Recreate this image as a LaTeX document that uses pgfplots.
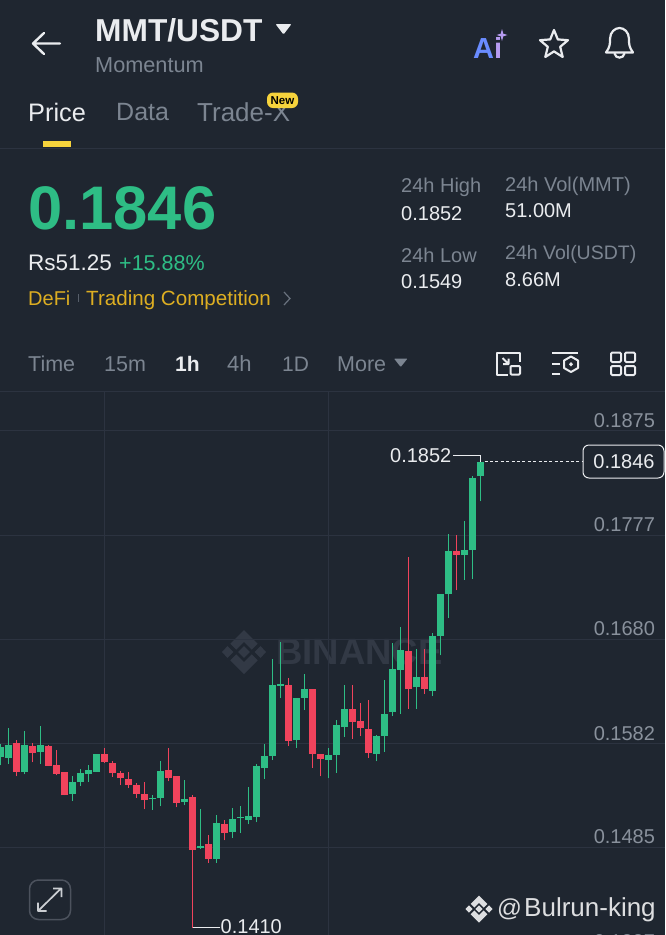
\documentclass[border=0pt]{standalone}
\usepackage{fontspec}
\setmainfont{Liberation Sans}
\usepackage{pgfplots}
\usepackage{pgfplotstable}
\pgfplotsset{compat=1.18}
\definecolor{bg}{HTML}{1F2630}
\definecolor{gridc}{HTML}{2C3340}
\definecolor{upc}{HTML}{2EBD85}
\definecolor{dnc}{HTML}{F0435C}
\definecolor{wht}{HTML}{EAECEF}
\definecolor{gry}{HTML}{7C8591}
\definecolor{gold}{HTML}{DDAE22}
\definecolor{yel}{HTML}{F6D33C}
\definecolor{wm}{HTML}{323945}
\definecolor{aip}{HTML}{B79CF0}
\definecolor{aib}{HTML}{6A8CFF}
% x low bottom top high
\pgfplotstableread{
x l b t h
0 0.15619 0.15694 0.15788 0.15822
1 0.15634 0.15687 0.15806 0.15972
3 0.15534 0.15556 0.15806 0.15937
5 0.15634 0.15744 0.15806 0.15987
9 0.15284 0.15353 0.15466 0.15516
10 0.15425 0.15459 0.15547 0.15587
11 0.15466 0.15534 0.15575 0.15619
12 0.15556 0.15556 0.15728 0.15728
19 0.15203 0.15300 0.15316 0.15337
20 0.15234 0.15316 0.15566 0.15656
23 0.15244 0.15275 0.15306 0.15478
25 0.14834 0.14844 0.14866 0.15206
27 0.14706 0.14744 0.15075 0.15156
29 0.14937 0.14994 0.15116 0.15216
30 0.14984 0.15122 0.15134 0.15237
31 0.15066 0.15110 0.15144 0.15416
32 0.15084 0.15134 0.15609 0.15628
33 0.15491 0.15591 0.15706 0.15816
34 0.15666 0.15706 0.16366 0.16609
35 0.16250 0.16359 0.16375 0.16769
37 0.15784 0.15853 0.16250 0.16253
38 0.16134 0.16250 0.16337 0.16469
41 0.15497 0.15666 0.15712 0.15778
42 0.15547 0.15719 0.15994 0.16041
43 0.15884 0.15975 0.16147 0.16366
47 0.15656 0.15728 0.15894 0.15900
48 0.15747 0.15897 0.16097 0.16416
49 0.16078 0.16116 0.16516 0.16766
50 0.16103 0.16509 0.16697 0.16916
52 0.16147 0.16347 0.16441 0.16703
54 0.16266 0.16316 0.16828 0.16859
55 0.16647 0.16831 0.17219 0.17222
56 0.16997 0.17219 0.17625 0.17787
58 0.17356 0.17591 0.17631 0.17906
59 0.17366 0.17631 0.18306 0.18322
60 0.18088 0.18322 0.18460 0.18520
}\upcandles
\pgfplotstableread{
x l b t h
2 0.15516 0.15556 0.15831 0.15853
4 0.15647 0.15734 0.15800 0.15831
6 0.15612 0.15616 0.15800 0.15806
7 0.15525 0.15541 0.15619 0.15759
8 0.15337 0.15337 0.15556 0.15556
13 0.15644 0.15650 0.15722 0.15778
14 0.15510 0.15544 0.15638 0.15656
15 0.15434 0.15497 0.15547 0.15563
16 0.15406 0.15434 0.15487 0.15553
17 0.15313 0.15353 0.15437 0.15453
18 0.15206 0.15291 0.15347 0.15466
21 0.15469 0.15503 0.15578 0.15778
22 0.15225 0.15266 0.15516 0.15516
24 0.14100 0.14828 0.15319 0.15344
26 0.14706 0.14744 0.14878 0.14966
28 0.14916 0.14984 0.15066 0.15103
36 0.15797 0.15847 0.16366 0.16437
39 0.15597 0.15728 0.16328 0.16328
40 0.15516 0.15675 0.15728 0.15728
44 0.15866 0.16025 0.16147 0.16366
45 0.15897 0.15969 0.16034 0.16206
46 0.15687 0.15738 0.15956 0.16228
51 0.16147 0.16328 0.16687 0.17569
53 0.16284 0.16328 0.16444 0.16706
57 0.17256 0.17588 0.17625 0.17778
}\dncandles
\newcommand{\T}[6][west]{\node[anchor=#1,inner sep=0pt,text=#4,font=\fontsize{#5}{#5}\selectfont] at (#2,#3) {#6};}
\newcommand{\binlogo}[4]{%
  \begin{scope}[shift={(#1,#2)},scale=#3,fill=#4,draw=none]
    \fill (0,-0.27)--(0.27,0)--(0,0.27)--(-0.27,0)--cycle;
    \fill (-0.75,-0.27)--(-0.48,0)--(-0.75,0.27)--(-1,0)--cycle;
    \fill (0.75,-0.27)--(1,0)--(0.75,0.27)--(0.48,0)--cycle;
    \fill (0,-1)--(0.62,-0.38)--(0.35,-0.11)--(0,-0.46)--(-0.35,-0.11)--(-0.62,-0.38)--cycle;
    \fill (0,1)--(0.62,0.38)--(0.35,0.11)--(0,0.46)--(-0.35,0.11)--(-0.62,0.38)--cycle;
  \end{scope}}
\begin{document}
\begin{tikzpicture}[x=1pt,y=-1pt]
\clip (0,0) rectangle (665,935);
\fill[bg] (0,0) rectangle (665,935);
% header
\draw[wht,line width=2.4pt,line cap=round,line join=round] (60,43.5)--(33.5,43.5) (44,33)--(33,43.5)--(44,54);
\T{95}{30}{wht}{31.7}{\bfseries MMT/USDT}
\fill[wht,rounded corners=1pt] (275.5,24)--(291.5,24)--(283.5,34.5)--cycle;
\T{95}{65}{gry}{21.7}{Momentum}
\T{28}{112}{wht}{25.3}{Price}
\T{116}{112.5}{gry}{25}{Data}
\T{197}{112.5}{gry}{26}{Trade-X}
\fill[yel,rounded corners=6pt] (267,92.5) rectangle (298,108);
\T[center]{282.5}{100.3}{black}{11.5}{\bfseries New}
\fill[yel] (43,141) rectangle (71,146.5);
\draw[gridc,line width=1pt] (0,148)--(665,148);
% AI / star / bell
\T{473}{48}{aib}{29}{\bfseries\textcolor{aib}{A}\textcolor{aip}{i}}
\fill[aip] (502,29)--(503.3,33.7)--(507.5,35)--(503.3,36.3)--(502,41)--(500.7,36.3)--(496.5,35)--(500.7,33.7)--cycle;
\draw[wht,line width=2.2pt,line join=round] (554,30)--(557.8,39.4)--(568,40.2)--(560.2,46.8)--(562.7,57)--(554,51.4)--(545.3,57)--(547.8,46.8)--(540,40.2)--(550.2,39.4)--cycle;
\draw[wht,line width=2.2pt,line join=round,line cap=round] (606,52.5)--(633,52.5) .. controls (629,47) and (629,44) .. (629,39) .. controls (629,32) and (624,28) .. (619.5,28) .. controls (615,28) and (610,32) .. (610,39) .. controls (610,44) and (610,47) .. (606,52.5);
\draw[wht,line width=2.2pt,line cap=round] (614.5,53.5) .. controls (615.5,59) and (623.5,59) .. (624.5,53.5);
% price block
\T{28}{208}{upc}{61.5}{\bfseries 0.1846}
\T{28}{263}{wht}{22.5}{Rs51.25}
\T{119}{263}{upc}{21.5}{+15.88\%}
\T{28}{298}{gold}{20}{DeFi}
\fill[gry!60!bg] (77.5,294) rectangle (78.5,302);
\T{86}{300}{gold}{20.6}{Trading Competition}
\draw[gry!80!bg,line width=1.2pt] (284,292)--(290,298.5)--(284,305);
\T{401}{187}{gry}{20}{24h High}
\T{401}{214}{wht}{20}{0.1852}
\T{505}{186.5}{gry}{20}{24h Vol(MMT)}
\T{505}{211}{wht}{20}{51.00M}
\T{401}{255}{gry}{20}{24h Low}
\T{401}{282}{wht}{20}{0.1549}
\T{505}{254}{gry}{19.5}{24h Vol(USDT)}
\T{505}{280}{wht}{20}{8.66M}
% timeframe row
\T{28}{364}{gry}{21.5}{Time}
\T{104}{364}{gry}{21.5}{15m}
\T{175}{363.5}{wht}{21}{\bfseries 1h}
\T{227}{364}{gry}{22}{4h}
\T{282}{364}{gry}{21}{1D}
\T{337}{364}{gry}{21.5}{More}
\fill[gry,rounded corners=0.8pt] (394,358.5)--(407.5,358.5)--(400.7,367)--cycle;
\begin{scope}[wht,line width=2pt,line join=round]
\draw (508,374.5)--(496.5,374.5)--(496.5,352.5)--(520,352.5)--(520,362);
\draw[rounded corners=1pt] (510.5,366)rectangle(520,374.5);
\draw (502.5,358)--(508.5,364) (508.5,358.5)--(508.5,364)--(503,364);
\draw (552,353)--(578,353) (552,364)--(560,364) (552,373.5)--(560,373.5);
\draw (571,356.5)--(578,360.5)--(578,368)--(571,372)--(564,368)--(564,360.5)--cycle;
\fill[wht] (571,362)--(573,364.3)--(571,366.5)--(569,364.3)--cycle;
\draw[rounded corners=1.2pt] (611,352.5)rectangle(621,362);
\draw[rounded corners=1.2pt] (625,352.5)rectangle(635,362);
\draw[rounded corners=1.2pt] (611,366)rectangle(621,375);
\draw[rounded corners=1.2pt] (625,366)rectangle(635,375);
\end{scope}
\draw[gridc,line width=1pt] (0,391)--(665,391);
% watermark
\binlogo{244}{652}{22}{wm}
\T{276}{652}{wm}{36.5}{\bfseries BINANCE}
% chart
\begin{axis}[
  at={(0,-899)},anchor=south west,
  scale only axis,width=665pt,height=569pt,
  xmin=-0.0625,xmax=83.0625,ymin=0.137906,ymax=0.191156,
  xtick={13,41},xticklabels={},
  ytick={0.1875,0.1777,0.1680,0.1582,0.1485,0.1387},
  yticklabel pos=right,
  yticklabel style={anchor=east,xshift=-6.5pt,yshift=10.5pt,text=gry!90!white,
    font=\fontsize{20}{20}\selectfont,
    /pgf/number format/assume math mode=true,
    /pgf/number format/fixed,/pgf/number format/fixed zerofill,/pgf/number format/precision=4},
  scaled y ticks=false,
  xmajorgrids,ymajorgrids,
  grid style={gridc,line width=1pt},
  major tick length=0pt,
  axis line style={draw=none},
  tick style={draw=none},
]
\pgfplotsset{
  wick/.style={draw=none,mark=none,forget plot,/pgfplots/error bars/y dir=plus,/pgfplots/error bars/y explicit,/pgfplots/error bars/error mark=none,/pgfplots/error bars/error bar style={#1,line width=1.4pt}},
  body/.style={draw=none,mark=none,forget plot,/pgfplots/error bars/y dir=plus,/pgfplots/error bars/y explicit,/pgfplots/error bars/error mark=none,/pgfplots/error bars/error bar style={#1,line width=6.2pt}},
}
\addplot[wick=upc] table[x=x,y=l,y error expr=\thisrow{h}-\thisrow{l}] {\upcandles};
\addplot[wick=dnc] table[x=x,y=l,y error expr=\thisrow{h}-\thisrow{l}] {\dncandles};
\addplot[body=upc] table[x=x,y=b,y error expr=\thisrow{t}-\thisrow{b}] {\upcandles};
\addplot[body=dnc] table[x=x,y=b,y error expr=\thisrow{t}-\thisrow{b}] {\dncandles};
% leaders
\addplot[wht,line width=1pt,forget plot] coordinates {(56.6,0.1852)(60,0.1852)(60,0.1846)};
\addplot[wht,line width=1pt,forget plot] coordinates {(24,0.1410)(27.4,0.1410)};
\addplot[wht,line width=0.9pt,dash pattern=on 3pt off 2.4pt,forget plot] coordinates {(60.5,0.1846)(72.7,0.1846)};
\end{axis}
% price labels
\T[east]{451.5}{456}{wht}{20}{0.1852}
\T{220.5}{926.5}{wht}{20}{0.1410}
\draw[wht,line width=1pt,rounded corners=6pt,fill=bg] (583,445) rectangle (664,478);
\T[center]{624}{461.5}{wht}{20}{0.1846}
% expand button
\draw[gridc!85!white,line width=1.5pt,rounded corners=9pt,fill=bg] (29.5,880) rectangle (70.5,919.5);
\draw[wht!85!bg,line width=1.7pt,line join=round] (38,911)--(61,888.5) (53,888.5)--(61.5,888.5)--(61.5,897) (38,902.5)--(38,911)--(46.5,911);
% watermark bottom
\binlogo{479}{909}{13.5}{white!85!bg}
\T{497}{909}{white!85!bg}{24.5}{@}
\T{524}{909.5}{white!85!bg}{26}{Bulrun-king}
\end{tikzpicture}
\end{document}
